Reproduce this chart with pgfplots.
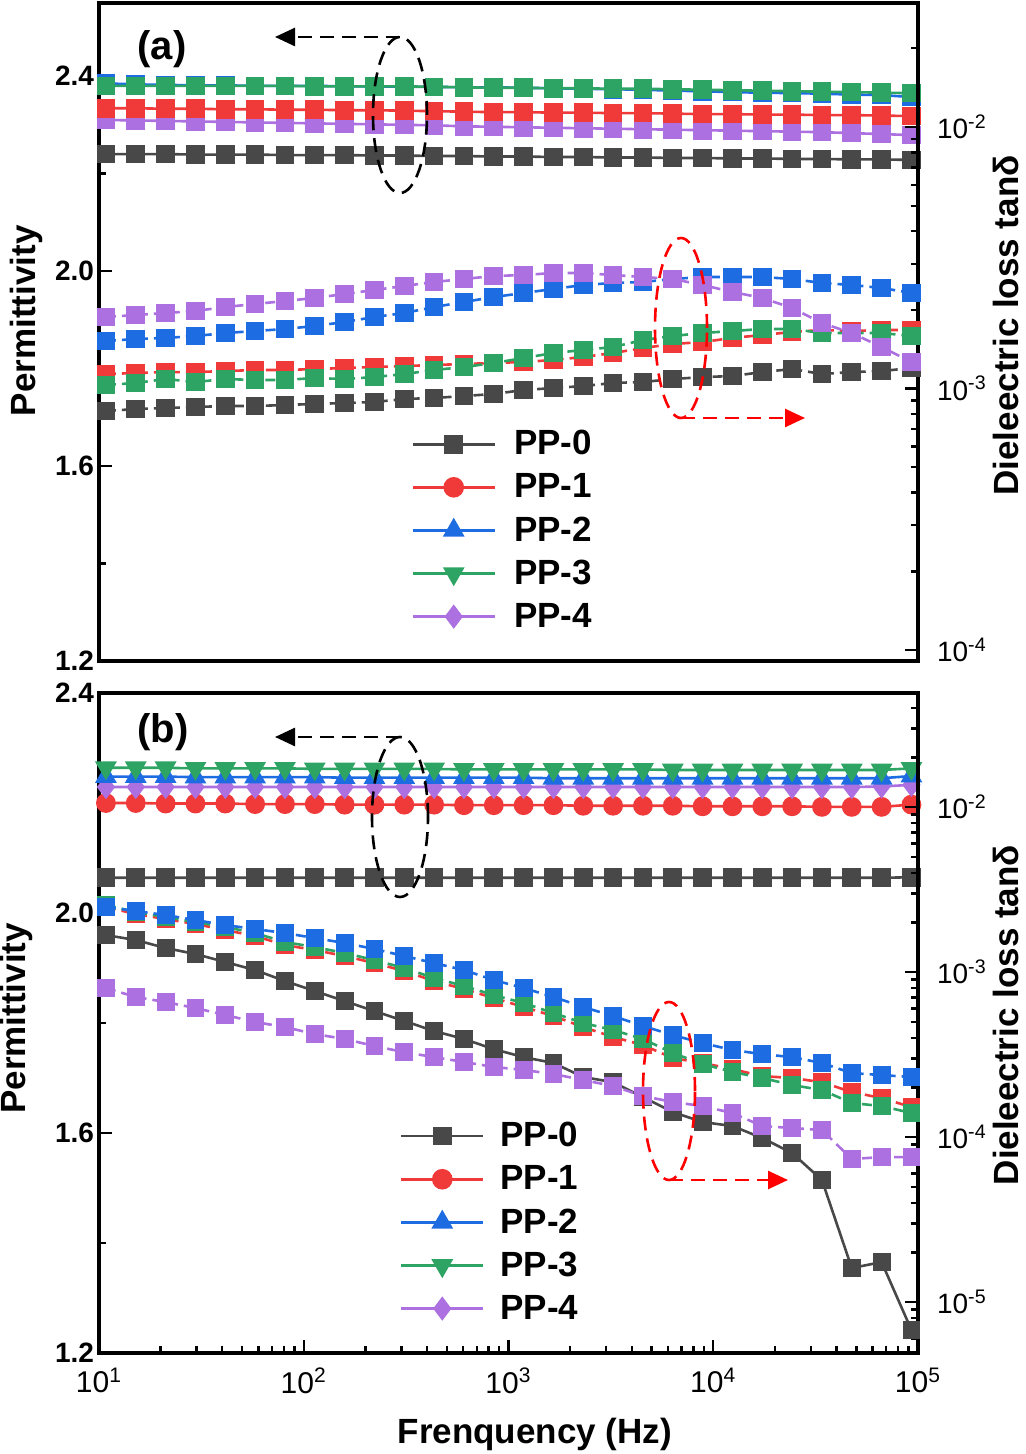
\documentclass[border=0pt]{standalone}
\usepackage{fontspec}
\setmainfont{Liberation Sans}
\usepackage{pgfplots}
\usepackage{pgfplotstable}
\pgfplotsset{compat=1.18}
\usetikzlibrary{arrows.meta}
\newcommand\fs[1]{\fontsize{#1}{#1}\selectfont}
\definecolor{cK}{RGB}{72,72,72}
\definecolor{cR}{RGB}{240,58,58}
\definecolor{cB}{RGB}{30,108,226}
\definecolor{cG}{RGB}{46,164,100}
\definecolor{cP}{RGB}{172,112,224}

\pgfplotstableread{
f e0 e1 e2 e3 e4 t0 t1 t2 t3 t4
10.81 2.240 2.334 2.385 2.380 2.310 0.820e-3 1.136e-3 1.519e-3 1.031e-3 1.877e-3
15.12 2.240 2.334 2.383 2.380 2.309 0.835e-3 1.146e-3 1.547e-3 1.050e-3 1.910e-3
21.15 2.240 2.333 2.382 2.380 2.308 0.842e-3 1.156e-3 1.561e-3 1.087e-3 1.944e-3
29.59 2.239 2.333 2.381 2.380 2.307 0.850e-3 1.156e-3 1.588e-3 1.059e-3 1.979e-3
41.39 2.239 2.332 2.381 2.380 2.306 0.857e-3 1.166e-3 1.630e-3 1.087e-3 2.050e-3
57.88 2.239 2.332 2.380 2.380 2.305 0.857e-3 1.177e-3 1.659e-3 1.078e-3 2.104e-3
80.96 2.238 2.331 2.380 2.380 2.304 0.865e-3 1.177e-3 1.689e-3 1.078e-3 2.161e-3
113.2 2.238 2.331 2.380 2.379 2.303 0.873e-3 1.187e-3 1.734e-3 1.097e-3 2.219e-3
158.4 2.238 2.330 2.379 2.379 2.302 0.880e-3 1.198e-3 1.796e-3 1.087e-3 2.299e-3
221.5 2.237 2.330 2.379 2.379 2.301 0.888e-3 1.208e-3 1.877e-3 1.106e-3 2.381e-3
309.7 2.237 2.329 2.378 2.379 2.300 0.912e-3 1.219e-3 1.944e-3 1.136e-3 2.466e-3
433.3 2.236 2.328 2.378 2.378 2.299 0.920e-3 1.230e-3 2.050e-3 1.177e-3 2.555e-3
605.9 2.236 2.327 2.377 2.377 2.297 0.936e-3 1.241e-3 2.142e-3 1.208e-3 2.623e-3
847.5 2.235 2.326 2.377 2.376 2.296 0.953e-3 1.252e-3 2.238e-3 1.252e-3 2.693e-3
1185 2.235 2.326 2.376 2.376 2.295 0.987e-3 1.263e-3 2.319e-3 1.308e-3 2.716e-3
1658 2.234 2.325 2.375 2.375 2.294 1.004e-3 1.285e-3 2.402e-3 1.367e-3 2.765e-3
2319 2.234 2.325 2.374 2.375 2.293 1.022e-3 1.320e-3 2.488e-3 1.404e-3 2.765e-3
3243 2.233 2.324 2.373 2.374 2.292 1.050e-3 1.367e-3 2.532e-3 1.441e-3 2.716e-3
4536 2.233 2.324 2.372 2.374 2.291 1.059e-3 1.428e-3 2.555e-3 1.532e-3 2.669e-3
6344 2.232 2.323 2.370 2.373 2.290 1.087e-3 1.480e-3 2.623e-3 1.588e-3 2.623e-3
8872 2.232 2.322 2.369 2.372 2.289 1.106e-3 1.506e-3 2.669e-3 1.630e-3 2.488e-3
12409 2.231 2.322 2.367 2.371 2.288 1.116e-3 1.561e-3 2.669e-3 1.659e-3 2.339e-3
17355 2.231 2.321 2.366 2.370 2.287 1.156e-3 1.602e-3 2.669e-3 1.689e-3 2.219e-3
24273 2.230 2.321 2.365 2.369 2.286 1.187e-3 1.645e-3 2.623e-3 1.689e-3 2.032e-3
33947 2.230 2.320 2.364 2.368 2.285 1.136e-3 1.674e-3 2.532e-3 1.630e-3 1.780e-3
47479 2.229 2.320 2.362 2.367 2.283 1.156e-3 1.659e-3 2.488e-3 1.630e-3 1.630e-3
66404 2.229 2.319 2.361 2.366 2.281 1.166e-3 1.674e-3 2.423e-3 1.630e-3 1.441e-3
92876 2.228 2.318 2.357 2.365 2.279 1.198e-3 1.674e-3 2.319e-3 1.588e-3 1.263e-3
}\dataA

\pgfplotstableread{
f e0 e1 e2 e3 e4 t0 t1 t2 t3 t4
10.81 2.064 2.200 2.248 2.264 2.229 1.676e-3 2.477e-3 2.477e-3 2.547e-3 0.800e-3
15.12 2.064 2.200 2.248 2.264 2.229 1.563e-3 2.247e-3 2.343e-3 2.310e-3 0.706e-3
21.15 2.064 2.199 2.248 2.264 2.229 1.398e-3 2.095e-3 2.216e-3 2.154e-3 0.658e-3
29.59 2.064 2.199 2.247 2.263 2.229 1.286e-3 1.954e-3 2.066e-3 2.009e-3 0.605e-3
41.39 2.064 2.199 2.247 2.263 2.229 1.150e-3 1.797e-3 1.926e-3 1.874e-3 0.549e-3
57.88 2.064 2.198 2.247 2.263 2.229 1.028e-3 1.653e-3 1.822e-3 1.723e-3 0.498e-3
80.96 2.064 2.198 2.247 2.263 2.229 0.882e-3 1.457e-3 1.723e-3 1.520e-3 0.464e-3
113.2 2.064 2.198 2.247 2.262 2.229 0.767e-3 1.359e-3 1.607e-3 1.417e-3 0.421e-3
158.4 2.064 2.197 2.246 2.262 2.229 0.667e-3 1.250e-3 1.499e-3 1.304e-3 0.393e-3
221.5 2.064 2.197 2.246 2.262 2.229 0.580e-3 1.134e-3 1.379e-3 1.182e-3 0.356e-3
309.7 2.064 2.197 2.246 2.262 2.229 0.505e-3 1.014e-3 1.250e-3 1.057e-3 0.327e-3
433.3 2.064 2.197 2.246 2.262 2.229 0.439e-3 0.882e-3 1.134e-3 0.920e-3 0.305e-3
605.9 2.064 2.196 2.246 2.261 2.229 0.393e-3 0.789e-3 1.028e-3 0.823e-3 0.285e-3
847.5 2.064 2.196 2.246 2.261 2.229 0.341e-3 0.696e-3 0.894e-3 0.725e-3 0.266e-3
1185 2.064 2.196 2.246 2.261 2.229 0.305e-3 0.614e-3 0.800e-3 0.649e-3 0.255e-3
1658 2.064 2.196 2.245 2.261 2.229 0.281e-3 0.541e-3 0.706e-3 0.564e-3 0.241e-3
2319 2.064 2.195 2.245 2.261 2.229 0.231e-3 0.464e-3 0.614e-3 0.491e-3 0.2216e-3
3243 2.064 2.195 2.245 2.261 2.229 0.215e-3 0.404e-3 0.541e-3 0.445e-3 0.2037e-3
4536 2.064 2.195 2.245 2.261 2.229 0.1747e-3 0.361e-3 0.471e-3 0.393e-3 0.1772e-3
6344 2.064 2.195 2.245 2.260 2.229 0.1417e-3 0.301e-3 0.415e-3 0.323e-3 0.1630e-3
8872 2.064 2.194 2.245 2.260 2.229 0.1233e-3 0.281e-3 0.371e-3 0.277e-3 0.1541e-3
12409 2.064 2.194 2.245 2.260 2.229 0.1166e-3 0.258e-3 0.337e-3 0.248e-3 0.1398e-3
17355 2.064 2.194 2.245 2.260 2.229 0.0986e-3 0.234e-3 0.318e-3 0.228e-3 0.1166e-3
24273 2.064 2.194 2.245 2.260 2.229 0.0800e-3 0.228e-3 0.305e-3 0.2066e-3 0.1134e-3
33947 2.064 2.193 2.245 2.260 2.229 0.0549e-3 0.215e-3 0.281e-3 0.1927e-3 0.1102e-3
47479 2.064 2.193 2.245 2.260 2.229 0.01607e-3 0.1874e-3 0.244e-3 0.1607e-3 0.0736e-3
66404 2.064 2.193 2.245 2.260 2.230 0.01747e-3 0.1723e-3 0.2375e-3 0.1541e-3 0.0756e-3
92876 2.065 2.197 2.249 2.263 2.233 0.00677e-3 0.1520e-3 0.231e-3 0.1398e-3 0.0756e-3
}\dataB

\pgfplotsset{every axis/.append style={
    width=409.5pt, scale only axis, xmin=10, xmax=100000,
    clip mode=individual, tick align=inside,
    major tick length=6.5pt, minor tick length=3.5pt,
    tick style={line width=1.2pt, black},
    axis line style={line width=1.6pt}}}
\tikzset{
  myls/.style={line width=1.3pt, mark options={solid}},
  mydl/.style={dash pattern=on 5pt off 3pt},
  mylab/.style={font=\bfseries\fs{17.5}},
}

\begin{document}
\begin{tikzpicture}
% ================= panel (a) =================
\begin{axis}[xmode=log, at={(0,0)}, anchor=south west, height=329pt,
  ymin=1.2, ymax=2.55, xtick=\empty, minor xtick={},
  ytick={1.2,1.6,2.0,2.4}, yticklabels={1.2,1.6,2.0,2.4},
  minor ytick={1.4,1.8,2.2}, ytick pos=left,
  yticklabel style={font=\bfseries\fs{14}, xshift=1pt},
  ylabel={Permittivity},
  ylabel style={mylab, at={(axis description cs:-0.088,0.517)}, anchor=center}]
\addplot[myls, cK, mark=square*, mark size=4pt] table[x=f,y=e0]{\dataA};
\addplot[myls, cP, mark=square*, mark size=4pt] table[x=f,y=e4]{\dataA};
\addplot[myls, cR, mark=square*, mark size=4pt] table[x=f,y=e1]{\dataA};
\addplot[myls, cB, mark=square*, mark size=4pt] table[x=f,y=e2]{\dataA};
\addplot[myls, cG, mark=square*, mark size=4pt] table[x=f,y=e3]{\dataA};
\end{axis}
\begin{axis}[xmode=log, ymode=log, axis x line=none, axis y line*=right,
  at={(0,0)}, anchor=south west, height=329pt,
  ymin=9.08e-5, ymax=0.02979,
  ytick={1e-4,1e-3,1e-2},
  yticklabels={10\textsuperscript{-4},10\textsuperscript{-3},10\textsuperscript{-2}},
  yticklabel style={font=\fs{14}, xshift=6pt},
  minor ytick={2e-4,3e-4,4e-4,5e-4,6e-4,7e-4,8e-4,9e-4,2e-3,3e-3,4e-3,5e-3,6e-3,7e-3,8e-3,9e-3,2e-2},
  ylabel={Dieleectric loss tanδ},
  ylabel style={mylab, at={(axis description cs:1.107,0.51)}, anchor=center},
  legend image code/.code={\draw[mark repeat=2,mark phase=2] plot coordinates {(0pt,0pt) (20.5pt,0pt) (41pt,0pt)};},
  legend cell align=left,
  legend style={at={(axis description cs:0.381,0.357)}, anchor=north west, draw=none, fill=none,
    font=\bfseries\fs{17.5}, row sep=3.9pt, column sep=7pt, inner sep=0pt}]
\addplot[myls, mydl, cK, mark=square*, mark size=4pt, forget plot] table[x=f,y=t0]{\dataA};
\addplot[myls, mydl, cR, mark=square*, mark size=4pt, forget plot] table[x=f,y=t1]{\dataA};
\addplot[myls, mydl, cG, mark=square*, mark size=4pt, forget plot] table[x=f,y=t3]{\dataA};
\addplot[myls, mydl, cB, mark=square*, mark size=4pt, forget plot] table[x=f,y=t2]{\dataA};
\addplot[myls, mydl, cP, mark=square*, mark size=4pt, forget plot] table[x=f,y=t4]{\dataA};
\addlegendimage{myls, cK, mark=square*, mark size=4pt}
\addlegendentry{PP-0}
\addlegendimage{myls, cR, mark=*, mark size=4.5pt}
\addlegendentry{PP-1}
\addlegendimage{myls, cB, mark=triangle*, mark size=5pt}
\addlegendentry{PP-2}
\addlegendimage{myls, cG, mark=triangle*, mark size=5pt, mark options={rotate=180}}
\addlegendentry{PP-3}
\addlegendimage{myls, cP, mark=diamond*, mark size=5pt}
\addlegendentry{PP-4}
\end{axis}

% ================= panel (b) =================
\begin{axis}[xmode=log, at={(0,-346pt)}, anchor=south west, height=330pt,
  ymin=1.2, ymax=2.4,
  ytick={1.2,1.6,2.0,2.4}, yticklabels={1.2,1.6,2.0,2.4},
  minor ytick={1.4,1.8,2.2}, ytick pos=left,
  yticklabel style={font=\bfseries\fs{14}, xshift=1pt},
  ylabel={Permittivity},
  xtick={10,100,1000,10000,100000},
  xticklabels={10\textsuperscript{1},10\textsuperscript{2},10\textsuperscript{3},10\textsuperscript{4},10\textsuperscript{5}},
  minor xtick={20,30,40,50,60,70,80,90,200,300,400,500,600,700,800,900,2000,3000,4000,5000,6000,7000,8000,9000,20000,30000,40000,50000,60000,70000,80000,90000},
  xtick pos=bottom, xticklabel style={font=\fs{15}, yshift=-4pt},
  xlabel={Frenquency (Hz)},
  xlabel style={mylab, at={(axis description cs:0.532,-0.124)}, anchor=center},
  ylabel style={mylab, at={(axis description cs:-0.101,0.507)}, anchor=center}]
\addplot[myls, cK, mark=square*, mark size=4pt] table[x=f,y=e0]{\dataB};
\addplot[myls, cR, mark=*, mark size=4.3pt] table[x=f,y=e1]{\dataB};
\addplot[myls, cP, mark=diamond*, mark size=5pt] table[x=f,y=e4]{\dataB};
\addplot[myls, cB, mark=triangle*, mark size=5pt] table[x=f,y=e2]{\dataB};
\addplot[myls, cG, mark=triangle*, mark size=5pt, mark options={rotate=180}] table[x=f,y=e3]{\dataB};
\end{axis}
\begin{axis}[xmode=log, ymode=log, axis x line=none, axis y line*=right,
  at={(0,-346pt)}, anchor=south west, height=330pt,
  ymin=4.91e-6, ymax=0.0491,
  ytick={1e-5,1e-4,1e-3,1e-2},
  yticklabels={10\textsuperscript{-5},10\textsuperscript{-4},10\textsuperscript{-3},10\textsuperscript{-2}},
  yticklabel style={font=\fs{14}, xshift=6pt},
  minor ytick={5e-6,6e-6,7e-6,8e-6,9e-6,2e-5,3e-5,4e-5,5e-5,6e-5,7e-5,8e-5,9e-5,2e-4,3e-4,4e-4,5e-4,6e-4,7e-4,8e-4,9e-4,2e-3,3e-3,4e-3,5e-3,6e-3,7e-3,8e-3,9e-3,2e-2,3e-2,4e-2},
  ylabel={Dieleectric loss tanδ},
  ylabel style={mylab, at={(axis description cs:1.107,0.512)}, anchor=center},
  legend image code/.code={\draw[mark repeat=2,mark phase=2] plot coordinates {(0pt,0pt) (20.5pt,0pt) (41pt,0pt)};},
  legend cell align=left,
  legend style={at={(axis description cs:0.367,0.356)}, anchor=north west, draw=none, fill=none,
    font=\bfseries\fs{17.5}, row sep=3.9pt, column sep=6pt, inner sep=0pt}]
\addplot[myls, cK, mark=square*, mark size=3.8pt, forget plot] table[x=f,y=t0]{\dataB};
\addplot[myls, mydl, cP, mark=square*, mark size=3.8pt, forget plot] table[x=f,y=t4]{\dataB};
\addplot[myls, mydl, cR, mark=square*, mark size=3.8pt, forget plot] table[x=f,y=t1]{\dataB};
\addplot[myls, mydl, cG, mark=square*, mark size=3.8pt, forget plot] table[x=f,y=t3]{\dataB};
\addplot[myls, mydl, cB, mark=square*, mark size=3.8pt, forget plot] table[x=f,y=t2]{\dataB};
\addlegendimage{myls, cK, mark=square*, mark size=4pt}
\addlegendentry{PP-0}
\addlegendimage{myls, cR, mark=*, mark size=4.5pt}
\addlegendentry{PP-1}
\addlegendimage{myls, cB, mark=triangle*, mark size=5pt}
\addlegendentry{PP-2}
\addlegendimage{myls, cG, mark=triangle*, mark size=5pt, mark options={rotate=180}}
\addlegendentry{PP-3}
\addlegendimage{myls, cP, mark=diamond*, mark size=5pt}
\addlegendentry{PP-4}
\end{axis}

% ================= annotations =================
\node[font=\bfseries\fs{20}] at (31.5pt,306pt) {(a)};
\node[font=\bfseries\fs{20}] at (32pt,-35.5pt) {(b)};
\begin{scope}[line width=1.3pt, dash pattern=on 7pt off 4pt]
\draw[black] (150.5pt,273pt) ellipse [x radius=13.5pt, y radius=39pt];
\draw[black, -{Triangle[length=10pt,width=9pt]}] (150.5pt,312pt) -- (88pt,312pt);
\draw[red] (291pt,166.5pt) ellipse [x radius=13pt, y radius=45pt];
\draw[red, -{Triangle[length=10pt,width=9pt]}] (291pt,121.5pt) -- (353pt,121.5pt);
\draw[black] (150.5pt,-78pt) ellipse [x radius=14pt, y radius=40pt];
\draw[black, -{Triangle[length=10pt,width=9pt]}] (150.5pt,-38pt) -- (88pt,-38pt);
\draw[red] (285pt,-215pt) ellipse [x radius=13pt, y radius=44.5pt];
\draw[red, -{Triangle[length=10pt,width=9pt]}] (285pt,-259.5pt) -- (344.5pt,-259.5pt);
\end{scope}
\pgfresetboundingbox
\path[use as bounding box] (-49.5pt,-396.5pt) rectangle (463pt,330.5pt);
\end{tikzpicture}
\end{document}
